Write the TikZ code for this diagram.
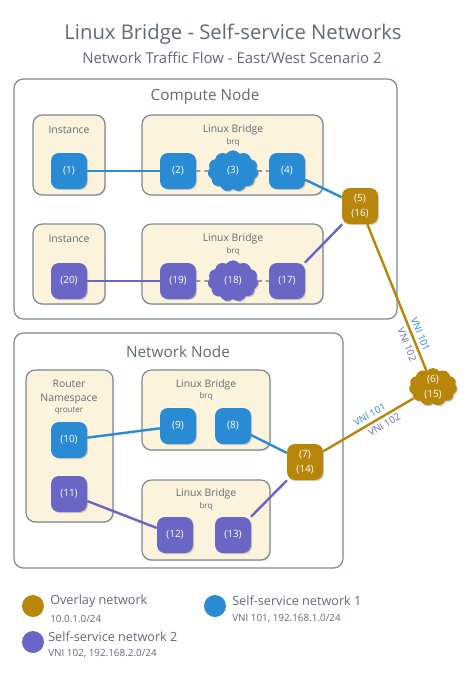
\documentclass[tikz,border=0pt]{standalone}
\usepackage{fontspec}
\setmainfont{Open Sans}
\usetikzlibrary{shapes.symbols,shadows,fit}
\definecolor{cblue}{HTML}{2A8BD5}
\definecolor{cpurple}{HTML}{6A66C6}
\definecolor{cgold}{HTML}{B8860B}
\definecolor{ccream}{HTML}{FCF3DD}
\definecolor{cborder}{HTML}{7D8A93}
\definecolor{ctext}{HTML}{5F6B75}
\definecolor{cdash}{HTML}{5A6878}
\pgfdeclarelayer{bg}
\pgfdeclarelayer{edges}
\pgfsetlayers{bg,edges,main}
\tikzset{
  outer/.style={draw=cborder, line width=0.9pt, rounded corners=7pt, inner sep=0pt, fill=white},
  cbox/.style={draw=cborder, line width=0.9pt, rounded corners=7pt, inner sep=0pt, fill=ccream,
     drop shadow={opacity=0.25, shadow xshift=0.8pt, shadow yshift=-0.8pt}},
  port/.style={rounded corners=6pt, minimum width=27pt, minimum height=27pt, inner sep=0pt,
     text=white, font=\fontsize{7.5}{9}\selectfont,
     drop shadow={opacity=0.35, shadow xshift=0.8pt, shadow yshift=-0.8pt}},
  bport/.style={port, fill=cblue},
  pport/.style={port, fill=cpurple},
  gport/.style={port, fill=cgold, align=center, font=\fontsize{7.5}{11}\selectfont},
  cl/.style={cloud, cloud puffs=11, cloud puff arc=110, aspect=1.25, minimum width=38pt, minimum height=31pt,
     inner sep=0pt, text=white, font=\fontsize{7.5}{9}\selectfont,
     drop shadow={opacity=0.35, shadow xshift=0.8pt, shadow yshift=-0.8pt}},
  lbl/.style={text=ctext, inner sep=0pt, font=\fontsize{7.8}{9}\selectfont},
  sublbl/.style={text=ctext, inner sep=0pt, font=\fontsize{6}{7}\selectfont},
  bline/.style={draw=cblue, line width=1.8pt},
  pline/.style={draw=cpurple, line width=1.8pt},
  gline/.style={draw=cgold, line width=1.8pt},
  dline/.style={draw=cdash, line width=0.9pt, dash pattern=on 3pt off 3pt},
  vnib/.style={text=cblue, font=\fontsize{7.3}{8}\selectfont, inner sep=2.5pt},
  vnip/.style={text=cpurple, font=\fontsize{7.3}{8}\selectfont, inner sep=2.5pt},
  legc/.style={circle, minimum size=16.5pt, inner sep=0pt},
  legt/.style={text=ctext, anchor=west, inner sep=0pt, font=\fontsize{9.5}{11}\selectfont},
  legs/.style={text=ctext, anchor=west, inner sep=0pt, font=\fontsize{7.4}{8}\selectfont},
}
\begin{document}
\begin{tikzpicture}[x=0.75pt,y=-0.75pt]
\useasboundingbox (0,0) rectangle (474,679);

% titles
\node[text=ctext, inner sep=0pt, font=\fontsize{15.2}{18}\selectfont] (title) at (233,34) {Linux Bridge - Self-service Networks};
\node[text=ctext, inner sep=0pt, font=\fontsize{11.2}{13}\selectfont] (subtitle) at (232,58) {Network Traffic Flow - East/West Scenario 2};

\begin{pgfonlayer}{bg}
\fill[white] (0,0) rectangle (474,679);
\node[outer, fit={(14,79) (397,319)}] (compute) {};
\node[outer, fit={(14,333) (343,568)}] (network) {};
\node[cbox, fit={(33,115) (105,195)}] (inst1) {};
\node[cbox, fit={(142,115) (323,195)}] (br1) {};
\node[cbox, fit={(33,224) (105,304)}] (inst2) {};
\node[cbox, fit={(142,224) (323,304)}] (br2) {};
\node[cbox, fit={(26,370) (113,522)}] (router) {};
\node[cbox, fit={(142,370) (270,450)}] (br3) {};
\node[cbox, fit={(142,480) (270,560)}] (br4) {};
\end{pgfonlayer}

\node[text=ctext, inner sep=0pt, font=\fontsize{11.5}{13}\selectfont] (computelbl) at (205,97) {Compute Node};
\node[text=ctext, inner sep=0pt, font=\fontsize{11.5}{13}\selectfont] (networklbl) at (178,352) {Network Node};

\node[lbl] (inst1lbl) at (69,130) {Instance};
\node[lbl] (br1lbl) at (233,130) {Linux Bridge};
\node[sublbl] (br1sub) at (233,142) {brq};
\node[lbl] (inst2lbl) at (69,239) {Instance};
\node[lbl] (br2lbl) at (233,239) {Linux Bridge};
\node[sublbl] (br2sub) at (233,251) {brq};
\node[lbl, align=center, font=\fontsize{7.8}{10.5}\selectfont] (routerlbl) at (69,392) {Router\\Namespace};
\node[sublbl] (routersub) at (69,411) {qrouter};
\node[lbl] (br3lbl) at (206,385) {Linux Bridge};
\node[sublbl] (br3sub) at (206,396) {brq};
\node[lbl] (br4lbl) at (206,494) {Linux Bridge};
\node[sublbl] (br4sub) at (206,506) {brq};

% ports
\node[bport] (n1) at (69,171) {(1)};
\node[bport] (n2) at (178,171) {(2)};
\node[cl, fill=cblue] (n3) at (233,171) {(3)};
\node[bport] (n4) at (287,171) {(4)};
\node[gport] (n5) at (360,206) {(5)\\(16)};
\node[pport] (n20) at (69,281) {(20)};
\node[pport] (n19) at (178,281) {(19)};
\node[cl, fill=cpurple] (n18) at (233,281) {(18)};
\node[pport] (n17) at (287,281) {(17)};
\node[cl, fill=cgold, align=center, font=\fontsize{7.5}{11}\selectfont, minimum width=36pt, minimum height=27pt] (n6) at (433,387) {(6)\\(15)};
\node[gport] (n7) at (305,462) {(7)\\(14)};
\node[bport] (n10) at (69,440) {(10)};
\node[pport] (n11) at (69,494) {(11)};
\node[bport] (n9) at (178,426) {(9)};
\node[bport] (n8) at (233,426) {(8)};
\node[pport] (n12) at (175,535) {(12)};
\node[pport] (n13) at (233,535) {(13)};

\begin{pgfonlayer}{edges}
\draw[bline] (n1) -- (n2);
\draw[dline] (n2) -- (n3);
\draw[dline] (n3) -- (n4);
\draw[bline] (n4) -- (n5);
\draw[pline] (n20) -- (n19);
\draw[dline] (n19) -- (n18);
\draw[dline] (n18) -- (n17);
\draw[pline] (n17) -- (n5);
\draw[gline] (n5) -- node[pos=0.77, sloped, above, vnib] {VNI 101} node[pos=0.80, sloped, below, vnip] {VNI 102} (n6);
\draw[gline] (n7) -- node[pos=0.56, sloped, above, vnib] {VNI 101} node[pos=0.63, sloped, below, vnip] {VNI 102} (n6);
\draw[bline] (n10) -- (n9);
\draw[bline] (n8) -- (n7);
\draw[pline] (n11) -- (n12);
\draw[pline] (n13) -- (n7);
\end{pgfonlayer}

% legend
\node[legc, fill=cgold] (lg1) at (33,606) {};
\node[legt] (lg1t) at (50,601) {Overlay network};
\node[legs] (lg1s) at (50,619) {10.0.1.0/24};
\node[legc, fill=cblue] (lg2) at (215,606) {};
\node[legt] (lg2t) at (232,601) {Self-service network 1};
\node[legs] (lg2s) at (232,619) {VNI 101, 192.168.1.0/24};
\node[legc, fill=cpurple] (lg3) at (33,642) {};
\node[legt] (lg3t) at (48,637) {Self-service network 2};
\node[legs] (lg3s) at (48,654) {VNI 102, 192.168.2.0/24};
\end{tikzpicture}
\end{document}
